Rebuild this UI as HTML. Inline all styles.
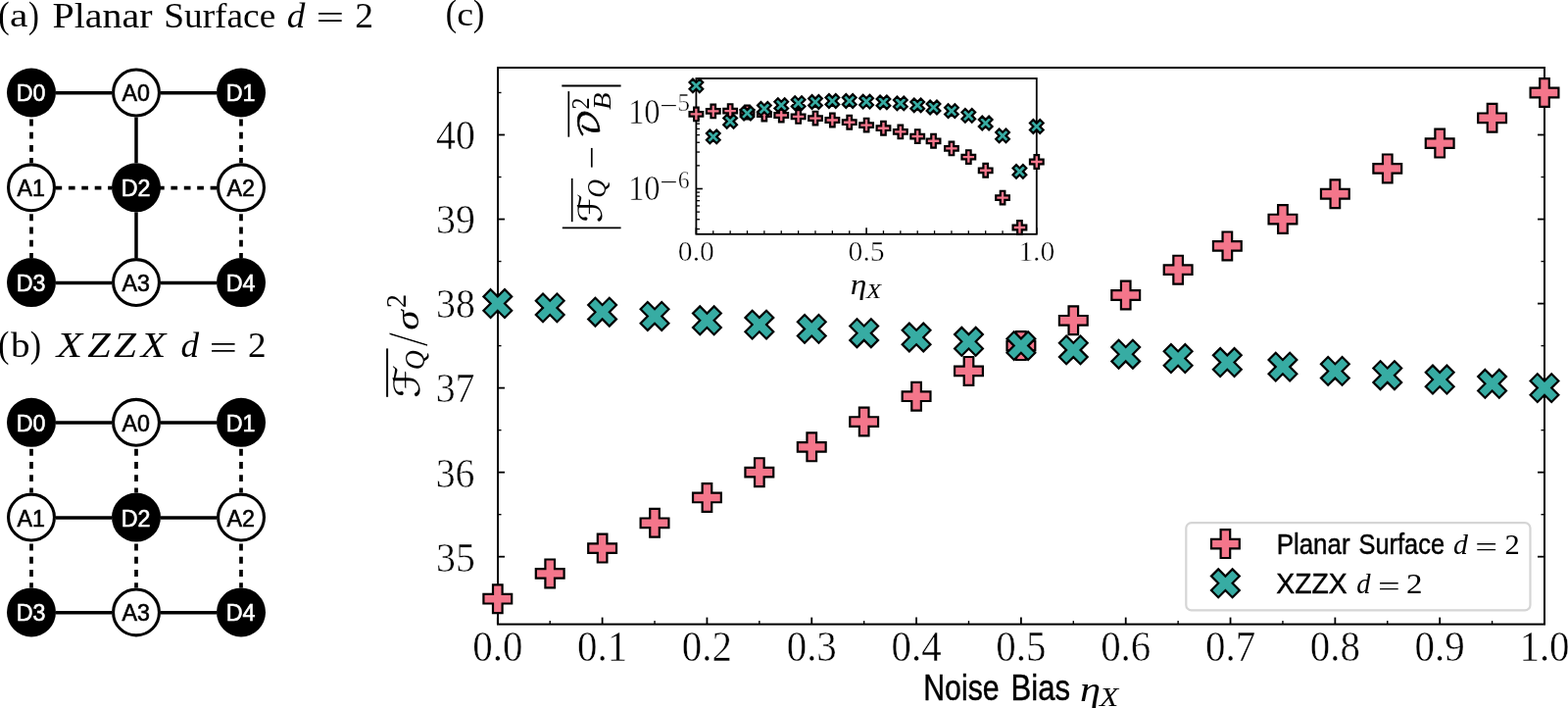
<!DOCTYPE html>
<html><head><meta charset="utf-8"><title>Figure</title>
<style>html,body{margin:0;padding:0;background:#fff;overflow:hidden}svg{display:block}.s{stroke:#fff;stroke-width:0.5px}.b{stroke:#000;stroke-width:0.45px}</style>
</head><body>
<svg width="1600" height="722" viewBox="0 0 1600 722">
<rect width="1600" height="722" fill="#fff"/>
<line x1="57.0" y1="94.8" x2="114.0" y2="94.8" stroke="#000" stroke-width="3.5"/>
<line x1="164.0" y1="94.8" x2="221.0" y2="94.8" stroke="#000" stroke-width="3.5"/>
<line x1="56.5" y1="191.6" x2="114.0" y2="191.6" stroke="#000" stroke-width="3.7" stroke-dasharray="6.7 6.7"/>
<line x1="161.0" y1="191.6" x2="221.0" y2="191.6" stroke="#000" stroke-width="3.7" stroke-dasharray="6.7 6.7"/>
<line x1="57.0" y1="288.4" x2="114.0" y2="288.4" stroke="#000" stroke-width="3.5"/>
<line x1="164.0" y1="288.4" x2="221.0" y2="288.4" stroke="#000" stroke-width="3.5"/>
<line x1="32.0" y1="121.5" x2="32.0" y2="166.3" stroke="#000" stroke-width="3.7" stroke-dasharray="6.9 6.3"/>
<line x1="32.0" y1="218.3" x2="32.0" y2="263.1" stroke="#000" stroke-width="3.7" stroke-dasharray="6.9 6.3"/>
<line x1="139.0" y1="119.5" x2="139.0" y2="166.3" stroke="#000" stroke-width="3.5"/>
<line x1="139.0" y1="216.3" x2="139.0" y2="263.1" stroke="#000" stroke-width="3.5"/>
<line x1="246.0" y1="121.5" x2="246.0" y2="166.3" stroke="#000" stroke-width="3.7" stroke-dasharray="6.9 6.3"/>
<line x1="246.0" y1="218.3" x2="246.0" y2="263.1" stroke="#000" stroke-width="3.7" stroke-dasharray="6.9 6.3"/>
<circle cx="32.0" cy="94.5" r="25" fill="#000"/>
<text transform="translate(31.7 103.4) scale(0.95 1)" font-family="'Liberation Sans', sans-serif" font-size="24.5" fill="#fff" stroke="#fff" stroke-width="0.6" text-anchor="middle">D0</text>
<circle cx="139.0" cy="94.5" r="23.45" fill="#fff" stroke="#000" stroke-width="3.1"/>
<text transform="translate(138.7 103.4) scale(0.95 1)" font-family="'Liberation Sans', sans-serif" font-size="24.5" fill="#000" stroke="#000" stroke-width="0.6" text-anchor="middle">A0</text>
<circle cx="246.0" cy="94.5" r="25" fill="#000"/>
<text transform="translate(245.7 103.4) scale(0.95 1)" font-family="'Liberation Sans', sans-serif" font-size="24.5" fill="#fff" stroke="#fff" stroke-width="0.6" text-anchor="middle">D1</text>
<circle cx="32.0" cy="191.3" r="23.45" fill="#fff" stroke="#000" stroke-width="3.1"/>
<text transform="translate(31.7 200.2) scale(0.95 1)" font-family="'Liberation Sans', sans-serif" font-size="24.5" fill="#000" stroke="#000" stroke-width="0.6" text-anchor="middle">A1</text>
<circle cx="139.0" cy="191.3" r="25" fill="#000"/>
<text transform="translate(138.7 200.2) scale(0.95 1)" font-family="'Liberation Sans', sans-serif" font-size="24.5" fill="#fff" stroke="#fff" stroke-width="0.6" text-anchor="middle">D2</text>
<circle cx="246.0" cy="191.3" r="23.45" fill="#fff" stroke="#000" stroke-width="3.1"/>
<text transform="translate(245.7 200.2) scale(0.95 1)" font-family="'Liberation Sans', sans-serif" font-size="24.5" fill="#000" stroke="#000" stroke-width="0.6" text-anchor="middle">A2</text>
<circle cx="32.0" cy="288.1" r="25" fill="#000"/>
<text transform="translate(31.7 297.0) scale(0.95 1)" font-family="'Liberation Sans', sans-serif" font-size="24.5" fill="#fff" stroke="#fff" stroke-width="0.6" text-anchor="middle">D3</text>
<circle cx="139.0" cy="288.1" r="23.45" fill="#fff" stroke="#000" stroke-width="3.1"/>
<text transform="translate(138.7 297.0) scale(0.95 1)" font-family="'Liberation Sans', sans-serif" font-size="24.5" fill="#000" stroke="#000" stroke-width="0.6" text-anchor="middle">A3</text>
<circle cx="246.0" cy="288.1" r="25" fill="#000"/>
<text transform="translate(245.7 297.0) scale(0.95 1)" font-family="'Liberation Sans', sans-serif" font-size="24.5" fill="#fff" stroke="#fff" stroke-width="0.6" text-anchor="middle">D4</text>
<line x1="57.0" y1="431.1" x2="114.0" y2="431.1" stroke="#000" stroke-width="3.5"/>
<line x1="164.0" y1="431.1" x2="221.0" y2="431.1" stroke="#000" stroke-width="3.5"/>
<line x1="57.0" y1="527.9" x2="114.0" y2="527.9" stroke="#000" stroke-width="3.5"/>
<line x1="164.0" y1="527.9" x2="221.0" y2="527.9" stroke="#000" stroke-width="3.5"/>
<line x1="57.0" y1="624.7" x2="114.0" y2="624.7" stroke="#000" stroke-width="3.5"/>
<line x1="164.0" y1="624.7" x2="221.0" y2="624.7" stroke="#000" stroke-width="3.5"/>
<line x1="32.0" y1="457.8" x2="32.0" y2="502.6" stroke="#000" stroke-width="3.7" stroke-dasharray="6.9 6.3"/>
<line x1="32.0" y1="554.6" x2="32.0" y2="599.4" stroke="#000" stroke-width="3.7" stroke-dasharray="6.9 6.3"/>
<line x1="139.0" y1="457.8" x2="139.0" y2="502.6" stroke="#000" stroke-width="3.7" stroke-dasharray="6.9 6.3"/>
<line x1="139.0" y1="554.6" x2="139.0" y2="599.4" stroke="#000" stroke-width="3.7" stroke-dasharray="6.9 6.3"/>
<line x1="246.0" y1="457.8" x2="246.0" y2="502.6" stroke="#000" stroke-width="3.7" stroke-dasharray="6.9 6.3"/>
<line x1="246.0" y1="554.6" x2="246.0" y2="599.4" stroke="#000" stroke-width="3.7" stroke-dasharray="6.9 6.3"/>
<circle cx="32.0" cy="430.8" r="25" fill="#000"/>
<text transform="translate(31.7 439.7) scale(0.95 1)" font-family="'Liberation Sans', sans-serif" font-size="24.5" fill="#fff" stroke="#fff" stroke-width="0.6" text-anchor="middle">D0</text>
<circle cx="139.0" cy="430.8" r="23.45" fill="#fff" stroke="#000" stroke-width="3.1"/>
<text transform="translate(138.7 439.7) scale(0.95 1)" font-family="'Liberation Sans', sans-serif" font-size="24.5" fill="#000" stroke="#000" stroke-width="0.6" text-anchor="middle">A0</text>
<circle cx="246.0" cy="430.8" r="25" fill="#000"/>
<text transform="translate(245.7 439.7) scale(0.95 1)" font-family="'Liberation Sans', sans-serif" font-size="24.5" fill="#fff" stroke="#fff" stroke-width="0.6" text-anchor="middle">D1</text>
<circle cx="32.0" cy="527.6" r="23.45" fill="#fff" stroke="#000" stroke-width="3.1"/>
<text transform="translate(31.7 536.5) scale(0.95 1)" font-family="'Liberation Sans', sans-serif" font-size="24.5" fill="#000" stroke="#000" stroke-width="0.6" text-anchor="middle">A1</text>
<circle cx="139.0" cy="527.6" r="25" fill="#000"/>
<text transform="translate(138.7 536.5) scale(0.95 1)" font-family="'Liberation Sans', sans-serif" font-size="24.5" fill="#fff" stroke="#fff" stroke-width="0.6" text-anchor="middle">D2</text>
<circle cx="246.0" cy="527.6" r="23.45" fill="#fff" stroke="#000" stroke-width="3.1"/>
<text transform="translate(245.7 536.5) scale(0.95 1)" font-family="'Liberation Sans', sans-serif" font-size="24.5" fill="#000" stroke="#000" stroke-width="0.6" text-anchor="middle">A2</text>
<circle cx="32.0" cy="624.4" r="25" fill="#000"/>
<text transform="translate(31.7 633.3) scale(0.95 1)" font-family="'Liberation Sans', sans-serif" font-size="24.5" fill="#fff" stroke="#fff" stroke-width="0.6" text-anchor="middle">D3</text>
<circle cx="139.0" cy="624.4" r="23.45" fill="#fff" stroke="#000" stroke-width="3.1"/>
<text transform="translate(138.7 633.3) scale(0.95 1)" font-family="'Liberation Sans', sans-serif" font-size="24.5" fill="#000" stroke="#000" stroke-width="0.6" text-anchor="middle">A3</text>
<circle cx="246.0" cy="624.4" r="25" fill="#000"/>
<text transform="translate(245.7 633.3) scale(0.95 1)" font-family="'Liberation Sans', sans-serif" font-size="24.5" fill="#fff" stroke="#fff" stroke-width="0.6" text-anchor="middle">D4</text>
<line x1="507.80" y1="636.6" x2="507.80" y2="629.6" stroke="#000" stroke-width="1.8"/>
<line x1="614.62" y1="636.6" x2="614.62" y2="629.6" stroke="#000" stroke-width="1.8"/>
<line x1="721.44" y1="636.6" x2="721.44" y2="629.6" stroke="#000" stroke-width="1.8"/>
<line x1="828.26" y1="636.6" x2="828.26" y2="629.6" stroke="#000" stroke-width="1.8"/>
<line x1="935.08" y1="636.6" x2="935.08" y2="629.6" stroke="#000" stroke-width="1.8"/>
<line x1="1041.90" y1="636.6" x2="1041.90" y2="629.6" stroke="#000" stroke-width="1.8"/>
<line x1="1148.72" y1="636.6" x2="1148.72" y2="629.6" stroke="#000" stroke-width="1.8"/>
<line x1="1255.54" y1="636.6" x2="1255.54" y2="629.6" stroke="#000" stroke-width="1.8"/>
<line x1="1362.36" y1="636.6" x2="1362.36" y2="629.6" stroke="#000" stroke-width="1.8"/>
<line x1="1469.18" y1="636.6" x2="1469.18" y2="629.6" stroke="#000" stroke-width="1.8"/>
<line x1="1576.00" y1="636.6" x2="1576.00" y2="629.6" stroke="#000" stroke-width="1.8"/>
<line x1="561.21" y1="636.6" x2="561.21" y2="633.1" stroke="#000" stroke-width="1.4"/>
<line x1="668.03" y1="636.6" x2="668.03" y2="633.1" stroke="#000" stroke-width="1.4"/>
<line x1="774.85" y1="636.6" x2="774.85" y2="633.1" stroke="#000" stroke-width="1.4"/>
<line x1="881.67" y1="636.6" x2="881.67" y2="633.1" stroke="#000" stroke-width="1.4"/>
<line x1="988.49" y1="636.6" x2="988.49" y2="633.1" stroke="#000" stroke-width="1.4"/>
<line x1="1095.31" y1="636.6" x2="1095.31" y2="633.1" stroke="#000" stroke-width="1.4"/>
<line x1="1202.13" y1="636.6" x2="1202.13" y2="633.1" stroke="#000" stroke-width="1.4"/>
<line x1="1308.95" y1="636.6" x2="1308.95" y2="633.1" stroke="#000" stroke-width="1.4"/>
<line x1="1415.77" y1="636.6" x2="1415.77" y2="633.1" stroke="#000" stroke-width="1.4"/>
<line x1="1522.59" y1="636.6" x2="1522.59" y2="633.1" stroke="#000" stroke-width="1.4"/>
<line x1="508.0" y1="567.70" x2="515.0" y2="567.70" stroke="#000" stroke-width="1.8"/>
<line x1="1576.0" y1="567.70" x2="1569.0" y2="567.70" stroke="#000" stroke-width="1.8"/>
<line x1="508.0" y1="481.66" x2="515.0" y2="481.66" stroke="#000" stroke-width="1.8"/>
<line x1="1576.0" y1="481.66" x2="1569.0" y2="481.66" stroke="#000" stroke-width="1.8"/>
<line x1="508.0" y1="395.62" x2="515.0" y2="395.62" stroke="#000" stroke-width="1.8"/>
<line x1="1576.0" y1="395.62" x2="1569.0" y2="395.62" stroke="#000" stroke-width="1.8"/>
<line x1="508.0" y1="309.58" x2="515.0" y2="309.58" stroke="#000" stroke-width="1.8"/>
<line x1="1576.0" y1="309.58" x2="1569.0" y2="309.58" stroke="#000" stroke-width="1.8"/>
<line x1="508.0" y1="223.54" x2="515.0" y2="223.54" stroke="#000" stroke-width="1.8"/>
<line x1="1576.0" y1="223.54" x2="1569.0" y2="223.54" stroke="#000" stroke-width="1.8"/>
<line x1="508.0" y1="137.50" x2="515.0" y2="137.50" stroke="#000" stroke-width="1.8"/>
<line x1="1576.0" y1="137.50" x2="1569.0" y2="137.50" stroke="#000" stroke-width="1.8"/>
<line x1="508.0" y1="524.68" x2="511.5" y2="524.68" stroke="#000" stroke-width="1.4"/>
<line x1="1576.0" y1="524.68" x2="1572.5" y2="524.68" stroke="#000" stroke-width="1.4"/>
<line x1="508.0" y1="438.64" x2="511.5" y2="438.64" stroke="#000" stroke-width="1.4"/>
<line x1="1576.0" y1="438.64" x2="1572.5" y2="438.64" stroke="#000" stroke-width="1.4"/>
<line x1="508.0" y1="352.60" x2="511.5" y2="352.60" stroke="#000" stroke-width="1.4"/>
<line x1="1576.0" y1="352.60" x2="1572.5" y2="352.60" stroke="#000" stroke-width="1.4"/>
<line x1="508.0" y1="266.56" x2="511.5" y2="266.56" stroke="#000" stroke-width="1.4"/>
<line x1="1576.0" y1="266.56" x2="1572.5" y2="266.56" stroke="#000" stroke-width="1.4"/>
<line x1="508.0" y1="180.52" x2="511.5" y2="180.52" stroke="#000" stroke-width="1.4"/>
<line x1="1576.0" y1="180.52" x2="1572.5" y2="180.52" stroke="#000" stroke-width="1.4"/>
<line x1="508.0" y1="94.48" x2="511.5" y2="94.48" stroke="#000" stroke-width="1.4"/>
<line x1="1576.0" y1="94.48" x2="1572.5" y2="94.48" stroke="#000" stroke-width="1.4"/>
<rect x="508.0" y="69.0" width="1068.0" height="567.6" fill="none" stroke="#000" stroke-width="2"/>
<text transform="translate(507.80 673.73) scale(0.9394 1)" font-family="'Liberation Serif', serif" font-size="43.58" text-anchor="middle" class="s">0.0</text>
<text transform="translate(614.62 673.73) scale(0.9394 1)" font-family="'Liberation Serif', serif" font-size="43.58" text-anchor="middle" class="s">0.1</text>
<text transform="translate(721.44 673.73) scale(0.9394 1)" font-family="'Liberation Serif', serif" font-size="43.58" text-anchor="middle" class="s">0.2</text>
<text transform="translate(828.26 673.73) scale(0.9394 1)" font-family="'Liberation Serif', serif" font-size="43.58" text-anchor="middle" class="s">0.3</text>
<text transform="translate(935.08 673.73) scale(0.9394 1)" font-family="'Liberation Serif', serif" font-size="43.58" text-anchor="middle" class="s">0.4</text>
<text transform="translate(1041.90 673.73) scale(0.9394 1)" font-family="'Liberation Serif', serif" font-size="43.58" text-anchor="middle" class="s">0.5</text>
<text transform="translate(1148.72 673.73) scale(0.9394 1)" font-family="'Liberation Serif', serif" font-size="43.58" text-anchor="middle" class="s">0.6</text>
<text transform="translate(1255.54 673.73) scale(0.9394 1)" font-family="'Liberation Serif', serif" font-size="43.58" text-anchor="middle" class="s">0.7</text>
<text transform="translate(1362.36 673.73) scale(0.9394 1)" font-family="'Liberation Serif', serif" font-size="43.58" text-anchor="middle" class="s">0.8</text>
<text transform="translate(1469.18 673.73) scale(0.9394 1)" font-family="'Liberation Serif', serif" font-size="43.58" text-anchor="middle" class="s">0.9</text>
<text transform="translate(1576.00 673.73) scale(0.9394 1)" font-family="'Liberation Serif', serif" font-size="43.58" text-anchor="middle" class="s">1.0</text>
<text transform="translate(445.10 582.55) scale(0.9353 1)" font-family="'Liberation Serif', serif" font-size="42.54" class="s">35</text>
<text transform="translate(444.71 496.51) scale(0.9353 1)" font-family="'Liberation Serif', serif" font-size="42.54" class="s">36</text>
<text transform="translate(444.71 410.47) scale(0.9353 1)" font-family="'Liberation Serif', serif" font-size="42.54" class="s">37</text>
<text transform="translate(445.10 324.43) scale(0.9353 1)" font-family="'Liberation Serif', serif" font-size="42.54" class="s">38</text>
<text transform="translate(445.10 238.39) scale(0.9353 1)" font-family="'Liberation Serif', serif" font-size="42.54" class="s">39</text>
<text transform="translate(445.10 152.35) scale(0.9353 1)" font-family="'Liberation Serif', serif" font-size="42.54" class="s">40</text>
<path d="M503.00,596.32 L503.00,605.92 L493.40,605.92 L493.40,615.52 L503.00,615.52 L503.00,625.12 L512.60,625.12 L512.60,615.52 L522.20,615.52 L522.20,605.92 L512.60,605.92 L512.60,596.32 Z" fill="#f4768b" stroke="#000" stroke-width="2.2"/>
<path d="M556.41,570.51 L556.41,580.11 L546.81,580.11 L546.81,589.71 L556.41,589.71 L556.41,599.31 L566.01,599.31 L566.01,589.71 L575.61,589.71 L575.61,580.11 L566.01,580.11 L566.01,570.51 Z" fill="#f4768b" stroke="#000" stroke-width="2.2"/>
<path d="M609.82,544.70 L609.82,554.30 L600.22,554.30 L600.22,563.90 L609.82,563.90 L609.82,573.50 L619.42,573.50 L619.42,563.90 L629.02,563.90 L629.02,554.30 L619.42,554.30 L619.42,544.70 Z" fill="#f4768b" stroke="#000" stroke-width="2.2"/>
<path d="M663.23,518.88 L663.23,528.48 L653.63,528.48 L653.63,538.08 L663.23,538.08 L663.23,547.68 L672.83,547.68 L672.83,538.08 L682.43,538.08 L682.43,528.48 L672.83,528.48 L672.83,518.88 Z" fill="#f4768b" stroke="#000" stroke-width="2.2"/>
<path d="M716.64,493.07 L716.64,502.67 L707.04,502.67 L707.04,512.27 L716.64,512.27 L716.64,521.87 L726.24,521.87 L726.24,512.27 L735.84,512.27 L735.84,502.67 L726.24,502.67 L726.24,493.07 Z" fill="#f4768b" stroke="#000" stroke-width="2.2"/>
<path d="M770.05,467.26 L770.05,476.86 L760.45,476.86 L760.45,486.46 L770.05,486.46 L770.05,496.06 L779.65,496.06 L779.65,486.46 L789.25,486.46 L789.25,476.86 L779.65,476.86 L779.65,467.26 Z" fill="#f4768b" stroke="#000" stroke-width="2.2"/>
<path d="M823.46,441.45 L823.46,451.05 L813.86,451.05 L813.86,460.65 L823.46,460.65 L823.46,470.25 L833.06,470.25 L833.06,460.65 L842.66,460.65 L842.66,451.05 L833.06,451.05 L833.06,441.45 Z" fill="#f4768b" stroke="#000" stroke-width="2.2"/>
<path d="M876.87,415.64 L876.87,425.24 L867.27,425.24 L867.27,434.84 L876.87,434.84 L876.87,444.44 L886.47,444.44 L886.47,434.84 L896.07,434.84 L896.07,425.24 L886.47,425.24 L886.47,415.64 Z" fill="#f4768b" stroke="#000" stroke-width="2.2"/>
<path d="M930.28,389.82 L930.28,399.42 L920.68,399.42 L920.68,409.02 L930.28,409.02 L930.28,418.62 L939.88,418.62 L939.88,409.02 L949.48,409.02 L949.48,399.42 L939.88,399.42 L939.88,389.82 Z" fill="#f4768b" stroke="#000" stroke-width="2.2"/>
<path d="M983.69,364.01 L983.69,373.61 L974.09,373.61 L974.09,383.21 L983.69,383.21 L983.69,392.81 L993.29,392.81 L993.29,383.21 L1002.89,383.21 L1002.89,373.61 L993.29,373.61 L993.29,364.01 Z" fill="#f4768b" stroke="#000" stroke-width="2.2"/>
<path d="M1037.10,338.20 L1037.10,347.80 L1027.50,347.80 L1027.50,357.40 L1037.10,357.40 L1037.10,367.00 L1046.70,367.00 L1046.70,357.40 L1056.30,357.40 L1056.30,347.80 L1046.70,347.80 L1046.70,338.20 Z" fill="#f4768b" stroke="#000" stroke-width="2.2"/>
<path d="M1090.51,312.39 L1090.51,321.99 L1080.91,321.99 L1080.91,331.59 L1090.51,331.59 L1090.51,341.19 L1100.11,341.19 L1100.11,331.59 L1109.71,331.59 L1109.71,321.99 L1100.11,321.99 L1100.11,312.39 Z" fill="#f4768b" stroke="#000" stroke-width="2.2"/>
<path d="M1143.92,286.58 L1143.92,296.18 L1134.32,296.18 L1134.32,305.78 L1143.92,305.78 L1143.92,315.38 L1153.52,315.38 L1153.52,305.78 L1163.12,305.78 L1163.12,296.18 L1153.52,296.18 L1153.52,286.58 Z" fill="#f4768b" stroke="#000" stroke-width="2.2"/>
<path d="M1197.33,260.76 L1197.33,270.36 L1187.73,270.36 L1187.73,279.96 L1197.33,279.96 L1197.33,289.56 L1206.93,289.56 L1206.93,279.96 L1216.53,279.96 L1216.53,270.36 L1206.93,270.36 L1206.93,260.76 Z" fill="#f4768b" stroke="#000" stroke-width="2.2"/>
<path d="M1247.54,236.50 L1247.54,246.10 L1237.94,246.10 L1237.94,255.70 L1247.54,255.70 L1247.54,265.30 L1257.14,265.30 L1257.14,255.70 L1266.74,255.70 L1266.74,246.10 L1257.14,246.10 L1257.14,236.50 Z" fill="#f4768b" stroke="#000" stroke-width="2.2"/>
<path d="M1304.15,209.14 L1304.15,218.74 L1294.55,218.74 L1294.55,228.34 L1304.15,228.34 L1304.15,237.94 L1313.75,237.94 L1313.75,228.34 L1323.35,228.34 L1323.35,218.74 L1313.75,218.74 L1313.75,209.14 Z" fill="#f4768b" stroke="#000" stroke-width="2.2"/>
<path d="M1357.56,183.33 L1357.56,192.93 L1347.96,192.93 L1347.96,202.53 L1357.56,202.53 L1357.56,212.13 L1367.16,212.13 L1367.16,202.53 L1376.76,202.53 L1376.76,192.93 L1367.16,192.93 L1367.16,183.33 Z" fill="#f4768b" stroke="#000" stroke-width="2.2"/>
<path d="M1410.97,157.52 L1410.97,167.12 L1401.37,167.12 L1401.37,176.72 L1410.97,176.72 L1410.97,186.32 L1420.57,186.32 L1420.57,176.72 L1430.17,176.72 L1430.17,167.12 L1420.57,167.12 L1420.57,157.52 Z" fill="#f4768b" stroke="#000" stroke-width="2.2"/>
<path d="M1464.38,131.70 L1464.38,141.30 L1454.78,141.30 L1454.78,150.90 L1464.38,150.90 L1464.38,160.50 L1473.98,160.50 L1473.98,150.90 L1483.58,150.90 L1483.58,141.30 L1473.98,141.30 L1473.98,131.70 Z" fill="#f4768b" stroke="#000" stroke-width="2.2"/>
<path d="M1517.79,105.89 L1517.79,115.49 L1508.19,115.49 L1508.19,125.09 L1517.79,125.09 L1517.79,134.69 L1527.39,134.69 L1527.39,125.09 L1536.99,125.09 L1536.99,115.49 L1527.39,115.49 L1527.39,105.89 Z" fill="#f4768b" stroke="#000" stroke-width="2.2"/>
<path d="M1571.20,80.08 L1571.20,89.68 L1561.60,89.68 L1561.60,99.28 L1571.20,99.28 L1571.20,108.88 L1580.80,108.88 L1580.80,99.28 L1590.40,99.28 L1590.40,89.68 L1580.80,89.68 L1580.80,80.08 Z" fill="#f4768b" stroke="#000" stroke-width="2.2"/>
<path d="M500.60,295.18 L507.80,302.38 L515.00,295.18 L522.20,302.38 L515.00,309.58 L522.20,316.78 L515.00,323.98 L507.80,316.78 L500.60,323.98 L493.40,316.78 L500.60,309.58 L493.40,302.38 Z" fill="#37aca3" stroke="#000" stroke-width="2.2"/>
<path d="M554.01,299.48 L561.21,306.68 L568.41,299.48 L575.61,306.68 L568.41,313.88 L575.61,321.08 L568.41,328.28 L561.21,321.08 L554.01,328.28 L546.81,321.08 L554.01,313.88 L546.81,306.68 Z" fill="#37aca3" stroke="#000" stroke-width="2.2"/>
<path d="M607.42,303.78 L614.62,310.98 L621.82,303.78 L629.02,310.98 L621.82,318.18 L629.02,325.38 L621.82,332.58 L614.62,325.38 L607.42,332.58 L600.22,325.38 L607.42,318.18 L600.22,310.98 Z" fill="#37aca3" stroke="#000" stroke-width="2.2"/>
<path d="M660.83,308.09 L668.03,315.29 L675.23,308.09 L682.43,315.29 L675.23,322.49 L682.43,329.69 L675.23,336.89 L668.03,329.69 L660.83,336.89 L653.63,329.69 L660.83,322.49 L653.63,315.29 Z" fill="#37aca3" stroke="#000" stroke-width="2.2"/>
<path d="M714.24,312.39 L721.44,319.59 L728.64,312.39 L735.84,319.59 L728.64,326.79 L735.84,333.99 L728.64,341.19 L721.44,333.99 L714.24,341.19 L707.04,333.99 L714.24,326.79 L707.04,319.59 Z" fill="#37aca3" stroke="#000" stroke-width="2.2"/>
<path d="M767.65,316.69 L774.85,323.89 L782.05,316.69 L789.25,323.89 L782.05,331.09 L789.25,338.29 L782.05,345.49 L774.85,338.29 L767.65,345.49 L760.45,338.29 L767.65,331.09 L760.45,323.89 Z" fill="#37aca3" stroke="#000" stroke-width="2.2"/>
<path d="M821.06,320.99 L828.26,328.19 L835.46,320.99 L842.66,328.19 L835.46,335.39 L842.66,342.59 L835.46,349.79 L828.26,342.59 L821.06,349.79 L813.86,342.59 L821.06,335.39 L813.86,328.19 Z" fill="#37aca3" stroke="#000" stroke-width="2.2"/>
<path d="M874.47,325.29 L881.67,332.49 L888.87,325.29 L896.07,332.49 L888.87,339.69 L896.07,346.89 L888.87,354.09 L881.67,346.89 L874.47,354.09 L867.27,346.89 L874.47,339.69 L867.27,332.49 Z" fill="#37aca3" stroke="#000" stroke-width="2.2"/>
<path d="M927.88,329.60 L935.08,336.80 L942.28,329.60 L949.48,336.80 L942.28,344.00 L949.48,351.20 L942.28,358.40 L935.08,351.20 L927.88,358.40 L920.68,351.20 L927.88,344.00 L920.68,336.80 Z" fill="#37aca3" stroke="#000" stroke-width="2.2"/>
<path d="M981.29,333.90 L988.49,341.10 L995.69,333.90 L1002.89,341.10 L995.69,348.30 L1002.89,355.50 L995.69,362.70 L988.49,355.50 L981.29,362.70 L974.09,355.50 L981.29,348.30 L974.09,341.10 Z" fill="#37aca3" stroke="#000" stroke-width="2.2"/>
<path d="M1034.70,338.20 L1041.90,345.40 L1049.10,338.20 L1056.30,345.40 L1049.10,352.60 L1056.30,359.80 L1049.10,367.00 L1041.90,359.80 L1034.70,367.00 L1027.50,359.80 L1034.70,352.60 L1027.50,345.40 Z" fill="#37aca3" stroke="#000" stroke-width="2.2"/>
<path d="M1088.11,342.50 L1095.31,349.70 L1102.51,342.50 L1109.71,349.70 L1102.51,356.90 L1109.71,364.10 L1102.51,371.30 L1095.31,364.10 L1088.11,371.30 L1080.91,364.10 L1088.11,356.90 L1080.91,349.70 Z" fill="#37aca3" stroke="#000" stroke-width="2.2"/>
<path d="M1141.52,346.80 L1148.72,354.00 L1155.92,346.80 L1163.12,354.00 L1155.92,361.20 L1163.12,368.40 L1155.92,375.60 L1148.72,368.40 L1141.52,375.60 L1134.32,368.40 L1141.52,361.20 L1134.32,354.00 Z" fill="#37aca3" stroke="#000" stroke-width="2.2"/>
<path d="M1194.93,351.11 L1202.13,358.31 L1209.33,351.11 L1216.53,358.31 L1209.33,365.51 L1216.53,372.71 L1209.33,379.91 L1202.13,372.71 L1194.93,379.91 L1187.73,372.71 L1194.93,365.51 L1187.73,358.31 Z" fill="#37aca3" stroke="#000" stroke-width="2.2"/>
<path d="M1245.14,355.15 L1252.34,362.35 L1259.54,355.15 L1266.74,362.35 L1259.54,369.55 L1266.74,376.75 L1259.54,383.95 L1252.34,376.75 L1245.14,383.95 L1237.94,376.75 L1245.14,369.55 L1237.94,362.35 Z" fill="#37aca3" stroke="#000" stroke-width="2.2"/>
<path d="M1301.75,359.71 L1308.95,366.91 L1316.15,359.71 L1323.35,366.91 L1316.15,374.11 L1323.35,381.31 L1316.15,388.51 L1308.95,381.31 L1301.75,388.51 L1294.55,381.31 L1301.75,374.11 L1294.55,366.91 Z" fill="#37aca3" stroke="#000" stroke-width="2.2"/>
<path d="M1355.16,364.01 L1362.36,371.21 L1369.56,364.01 L1376.76,371.21 L1369.56,378.41 L1376.76,385.61 L1369.56,392.81 L1362.36,385.61 L1355.16,392.81 L1347.96,385.61 L1355.16,378.41 L1347.96,371.21 Z" fill="#37aca3" stroke="#000" stroke-width="2.2"/>
<path d="M1408.57,368.31 L1415.77,375.51 L1422.97,368.31 L1430.17,375.51 L1422.97,382.71 L1430.17,389.91 L1422.97,397.11 L1415.77,389.91 L1408.57,397.11 L1401.37,389.91 L1408.57,382.71 L1401.37,375.51 Z" fill="#37aca3" stroke="#000" stroke-width="2.2"/>
<path d="M1461.98,372.62 L1469.18,379.82 L1476.38,372.62 L1483.58,379.82 L1476.38,387.02 L1483.58,394.22 L1476.38,401.42 L1469.18,394.22 L1461.98,401.42 L1454.78,394.22 L1461.98,387.02 L1454.78,379.82 Z" fill="#37aca3" stroke="#000" stroke-width="2.2"/>
<path d="M1515.39,376.92 L1522.59,384.12 L1529.79,376.92 L1536.99,384.12 L1529.79,391.32 L1536.99,398.52 L1529.79,405.72 L1522.59,398.52 L1515.39,405.72 L1508.19,398.52 L1515.39,391.32 L1508.19,384.12 Z" fill="#37aca3" stroke="#000" stroke-width="2.2"/>
<path d="M1568.80,381.22 L1576.00,388.42 L1583.20,381.22 L1590.40,388.42 L1583.20,395.62 L1590.40,402.82 L1583.20,410.02 L1576.00,402.82 L1568.80,410.02 L1561.60,402.82 L1568.80,395.62 L1561.60,388.42 Z" fill="#37aca3" stroke="#000" stroke-width="2.2"/>
<line x1="395.1" y1="355.4" x2="395.1" y2="404.8" stroke="#000" stroke-width="2"/>
<rect x="710.4" y="80.0" width="347.4" height="158.8" fill="#fff" stroke="#000" stroke-width="1.8"/>
<line x1="710.40" y1="238.8" x2="710.40" y2="232.3" stroke="#000" stroke-width="1.6"/>
<line x1="727.77" y1="238.8" x2="727.77" y2="235.20000000000002" stroke="#000" stroke-width="1.3"/>
<line x1="745.14" y1="238.8" x2="745.14" y2="235.20000000000002" stroke="#000" stroke-width="1.3"/>
<line x1="762.51" y1="238.8" x2="762.51" y2="235.20000000000002" stroke="#000" stroke-width="1.3"/>
<line x1="779.88" y1="238.8" x2="779.88" y2="235.20000000000002" stroke="#000" stroke-width="1.3"/>
<line x1="797.25" y1="238.8" x2="797.25" y2="235.20000000000002" stroke="#000" stroke-width="1.3"/>
<line x1="814.62" y1="238.8" x2="814.62" y2="235.20000000000002" stroke="#000" stroke-width="1.3"/>
<line x1="831.99" y1="238.8" x2="831.99" y2="235.20000000000002" stroke="#000" stroke-width="1.3"/>
<line x1="849.36" y1="238.8" x2="849.36" y2="235.20000000000002" stroke="#000" stroke-width="1.3"/>
<line x1="866.73" y1="238.8" x2="866.73" y2="235.20000000000002" stroke="#000" stroke-width="1.3"/>
<line x1="884.10" y1="238.8" x2="884.10" y2="232.3" stroke="#000" stroke-width="1.6"/>
<line x1="901.47" y1="238.8" x2="901.47" y2="235.20000000000002" stroke="#000" stroke-width="1.3"/>
<line x1="918.84" y1="238.8" x2="918.84" y2="235.20000000000002" stroke="#000" stroke-width="1.3"/>
<line x1="936.21" y1="238.8" x2="936.21" y2="235.20000000000002" stroke="#000" stroke-width="1.3"/>
<line x1="953.58" y1="238.8" x2="953.58" y2="235.20000000000002" stroke="#000" stroke-width="1.3"/>
<line x1="970.95" y1="238.8" x2="970.95" y2="235.20000000000002" stroke="#000" stroke-width="1.3"/>
<line x1="988.32" y1="238.8" x2="988.32" y2="235.20000000000002" stroke="#000" stroke-width="1.3"/>
<line x1="1005.69" y1="238.8" x2="1005.69" y2="235.20000000000002" stroke="#000" stroke-width="1.3"/>
<line x1="1023.06" y1="238.8" x2="1023.06" y2="235.20000000000002" stroke="#000" stroke-width="1.3"/>
<line x1="1040.43" y1="238.8" x2="1040.43" y2="235.20000000000002" stroke="#000" stroke-width="1.3"/>
<line x1="1057.80" y1="238.8" x2="1057.80" y2="232.3" stroke="#000" stroke-width="1.6"/>
<text transform="translate(710.40 266.19) scale(0.9817 1)" font-family="'Liberation Serif', serif" font-size="30.30" text-anchor="middle" class="s">0.0</text>
<text transform="translate(884.10 266.19) scale(0.9817 1)" font-family="'Liberation Serif', serif" font-size="30.30" text-anchor="middle" class="s">0.5</text>
<text transform="translate(1057.80 266.19) scale(0.9817 1)" font-family="'Liberation Serif', serif" font-size="30.30" text-anchor="middle" class="s">1.0</text>
<line x1="710.4" y1="192.50" x2="716.9" y2="192.50" stroke="#000" stroke-width="1.6"/>
<line x1="710.4" y1="114.00" x2="716.9" y2="114.00" stroke="#000" stroke-width="1.6"/>
<line x1="710.4" y1="233.55" x2="714.0" y2="233.55" stroke="#000" stroke-width="1.3"/>
<line x1="710.4" y1="223.74" x2="714.0" y2="223.74" stroke="#000" stroke-width="1.3"/>
<line x1="710.4" y1="216.13" x2="714.0" y2="216.13" stroke="#000" stroke-width="1.3"/>
<line x1="710.4" y1="209.92" x2="714.0" y2="209.92" stroke="#000" stroke-width="1.3"/>
<line x1="710.4" y1="204.66" x2="714.0" y2="204.66" stroke="#000" stroke-width="1.3"/>
<line x1="710.4" y1="200.11" x2="714.0" y2="200.11" stroke="#000" stroke-width="1.3"/>
<line x1="710.4" y1="196.09" x2="714.0" y2="196.09" stroke="#000" stroke-width="1.3"/>
<line x1="710.4" y1="168.87" x2="714.0" y2="168.87" stroke="#000" stroke-width="1.3"/>
<line x1="710.4" y1="155.05" x2="714.0" y2="155.05" stroke="#000" stroke-width="1.3"/>
<line x1="710.4" y1="145.24" x2="714.0" y2="145.24" stroke="#000" stroke-width="1.3"/>
<line x1="710.4" y1="137.63" x2="714.0" y2="137.63" stroke="#000" stroke-width="1.3"/>
<line x1="710.4" y1="131.42" x2="714.0" y2="131.42" stroke="#000" stroke-width="1.3"/>
<line x1="710.4" y1="126.16" x2="714.0" y2="126.16" stroke="#000" stroke-width="1.3"/>
<line x1="710.4" y1="121.61" x2="714.0" y2="121.61" stroke="#000" stroke-width="1.3"/>
<line x1="710.4" y1="117.59" x2="714.0" y2="117.59" stroke="#000" stroke-width="1.3"/>
<line x1="710.4" y1="90.37" x2="714.0" y2="90.37" stroke="#000" stroke-width="1.3"/>
<path d="M708.12,109.55 L708.12,114.12 L703.55,114.12 L703.55,118.68 L708.12,118.68 L708.12,123.25 L712.68,123.25 L712.68,118.68 L717.25,118.68 L717.25,114.12 L712.68,114.12 L712.68,109.55 Z" fill="#f4768b" stroke="#000" stroke-width="2.2"/>
<path d="M725.49,106.55 L725.49,111.12 L720.92,111.12 L720.92,115.68 L725.49,115.68 L725.49,120.25 L730.05,120.25 L730.05,115.68 L734.62,115.68 L734.62,111.12 L730.05,111.12 L730.05,106.55 Z" fill="#f4768b" stroke="#000" stroke-width="2.2"/>
<path d="M742.86,106.25 L742.86,110.82 L738.29,110.82 L738.29,115.38 L742.86,115.38 L742.86,119.95 L747.42,119.95 L747.42,115.38 L751.99,115.38 L751.99,110.82 L747.42,110.82 L747.42,106.25 Z" fill="#f4768b" stroke="#000" stroke-width="2.2"/>
<path d="M760.23,107.65 L760.23,112.22 L755.66,112.22 L755.66,116.78 L760.23,116.78 L760.23,121.35 L764.79,121.35 L764.79,116.78 L769.36,116.78 L769.36,112.22 L764.79,112.22 L764.79,107.65 Z" fill="#f4768b" stroke="#000" stroke-width="2.2"/>
<path d="M777.60,109.75 L777.60,114.32 L773.03,114.32 L773.03,118.88 L777.60,118.88 L777.60,123.45 L782.16,123.45 L782.16,118.88 L786.73,118.88 L786.73,114.32 L782.16,114.32 L782.16,109.75 Z" fill="#f4768b" stroke="#000" stroke-width="2.2"/>
<path d="M794.97,110.65 L794.97,115.22 L790.40,115.22 L790.40,119.78 L794.97,119.78 L794.97,124.35 L799.53,124.35 L799.53,119.78 L804.10,119.78 L804.10,115.22 L799.53,115.22 L799.53,110.65 Z" fill="#f4768b" stroke="#000" stroke-width="2.2"/>
<path d="M812.34,112.05 L812.34,116.62 L807.77,116.62 L807.77,121.18 L812.34,121.18 L812.34,125.75 L816.90,125.75 L816.90,121.18 L821.47,121.18 L821.47,116.62 L816.90,116.62 L816.90,112.05 Z" fill="#f4768b" stroke="#000" stroke-width="2.2"/>
<path d="M829.71,113.75 L829.71,118.32 L825.14,118.32 L825.14,122.88 L829.71,122.88 L829.71,127.45 L834.27,127.45 L834.27,122.88 L838.84,122.88 L838.84,118.32 L834.27,118.32 L834.27,113.75 Z" fill="#f4768b" stroke="#000" stroke-width="2.2"/>
<path d="M847.08,115.65 L847.08,120.22 L842.51,120.22 L842.51,124.78 L847.08,124.78 L847.08,129.35 L851.64,129.35 L851.64,124.78 L856.21,124.78 L856.21,120.22 L851.64,120.22 L851.64,115.65 Z" fill="#f4768b" stroke="#000" stroke-width="2.2"/>
<path d="M864.45,117.85 L864.45,122.42 L859.88,122.42 L859.88,126.98 L864.45,126.98 L864.45,131.55 L869.01,131.55 L869.01,126.98 L873.58,126.98 L873.58,122.42 L869.01,122.42 L869.01,117.85 Z" fill="#f4768b" stroke="#000" stroke-width="2.2"/>
<path d="M881.82,120.75 L881.82,125.32 L877.25,125.32 L877.25,129.88 L881.82,129.88 L881.82,134.45 L886.38,134.45 L886.38,129.88 L890.95,129.88 L890.95,125.32 L886.38,125.32 L886.38,120.75 Z" fill="#f4768b" stroke="#000" stroke-width="2.2"/>
<path d="M899.19,123.85 L899.19,128.42 L894.62,128.42 L894.62,132.98 L899.19,132.98 L899.19,137.55 L903.75,137.55 L903.75,132.98 L908.32,132.98 L908.32,128.42 L903.75,128.42 L903.75,123.85 Z" fill="#f4768b" stroke="#000" stroke-width="2.2"/>
<path d="M916.56,127.55 L916.56,132.12 L911.99,132.12 L911.99,136.68 L916.56,136.68 L916.56,141.25 L921.12,141.25 L921.12,136.68 L925.69,136.68 L925.69,132.12 L921.12,132.12 L921.12,127.55 Z" fill="#f4768b" stroke="#000" stroke-width="2.2"/>
<path d="M933.93,132.25 L933.93,136.82 L929.36,136.82 L929.36,141.38 L933.93,141.38 L933.93,145.95 L938.49,145.95 L938.49,141.38 L943.06,141.38 L943.06,136.82 L938.49,136.82 L938.49,132.25 Z" fill="#f4768b" stroke="#000" stroke-width="2.2"/>
<path d="M950.25,136.95 L950.25,141.52 L945.69,141.52 L945.69,146.08 L950.25,146.08 L950.25,150.65 L954.82,150.65 L954.82,146.08 L959.39,146.08 L959.39,141.52 L954.82,141.52 L954.82,136.95 Z" fill="#f4768b" stroke="#000" stroke-width="2.2"/>
<path d="M968.67,144.55 L968.67,149.12 L964.10,149.12 L964.10,153.68 L968.67,153.68 L968.67,158.25 L973.23,158.25 L973.23,153.68 L977.80,153.68 L977.80,149.12 L973.23,149.12 L973.23,144.55 Z" fill="#f4768b" stroke="#000" stroke-width="2.2"/>
<path d="M986.04,153.25 L986.04,157.82 L981.47,157.82 L981.47,162.38 L986.04,162.38 L986.04,166.95 L990.60,166.95 L990.60,162.38 L995.17,162.38 L995.17,157.82 L990.60,157.82 L990.60,153.25 Z" fill="#f4768b" stroke="#000" stroke-width="2.2"/>
<path d="M1003.41,166.95 L1003.41,171.52 L998.84,171.52 L998.84,176.08 L1003.41,176.08 L1003.41,180.65 L1007.97,180.65 L1007.97,176.08 L1012.54,176.08 L1012.54,171.52 L1007.97,171.52 L1007.97,166.95 Z" fill="#f4768b" stroke="#000" stroke-width="2.2"/>
<path d="M1020.78,194.75 L1020.78,199.32 L1016.21,199.32 L1016.21,203.88 L1020.78,203.88 L1020.78,208.45 L1025.34,208.45 L1025.34,203.88 L1029.91,203.88 L1029.91,199.32 L1025.34,199.32 L1025.34,194.75 Z" fill="#f4768b" stroke="#000" stroke-width="2.2"/>
<path d="M1038.15,225.15 L1038.15,229.72 L1033.58,229.72 L1033.58,234.28 L1038.15,234.28 L1038.15,238.85 L1042.71,238.85 L1042.71,234.28 L1047.28,234.28 L1047.28,229.72 L1042.71,229.72 L1042.71,225.15 Z" fill="#f4768b" stroke="#000" stroke-width="2.2"/>
<path d="M1055.52,158.15 L1055.52,162.72 L1050.95,162.72 L1050.95,167.28 L1055.52,167.28 L1055.52,171.85 L1060.08,171.85 L1060.08,167.28 L1064.65,167.28 L1064.65,162.72 L1060.08,162.72 L1060.08,158.15 Z" fill="#f4768b" stroke="#000" stroke-width="2.2"/>
<path d="M706.98,80.55 L710.40,83.98 L713.82,80.55 L717.25,83.98 L713.82,87.40 L717.25,90.83 L713.82,94.25 L710.40,90.83 L706.98,94.25 L703.55,90.83 L706.98,87.40 L703.55,83.98 Z" fill="#37aca3" stroke="#000" stroke-width="2.2"/>
<path d="M724.35,132.55 L727.77,135.97 L731.19,132.55 L734.62,135.97 L731.19,139.40 L734.62,142.83 L731.19,146.25 L727.77,142.83 L724.35,146.25 L720.92,142.83 L724.35,139.40 L720.92,135.97 Z" fill="#37aca3" stroke="#000" stroke-width="2.2"/>
<path d="M741.72,116.95 L745.14,120.38 L748.56,116.95 L751.99,120.38 L748.56,123.80 L751.99,127.22 L748.56,130.65 L745.14,127.22 L741.72,130.65 L738.29,127.22 L741.72,123.80 L738.29,120.38 Z" fill="#37aca3" stroke="#000" stroke-width="2.2"/>
<path d="M759.09,108.65 L762.51,112.08 L765.93,108.65 L769.36,112.08 L765.93,115.50 L769.36,118.92 L765.93,122.35 L762.51,118.92 L759.09,122.35 L755.66,118.92 L759.09,115.50 L755.66,112.08 Z" fill="#37aca3" stroke="#000" stroke-width="2.2"/>
<path d="M776.46,104.05 L779.88,107.48 L783.30,104.05 L786.73,107.48 L783.30,110.90 L786.73,114.33 L783.30,117.75 L779.88,114.33 L776.46,117.75 L773.03,114.33 L776.46,110.90 L773.03,107.48 Z" fill="#37aca3" stroke="#000" stroke-width="2.2"/>
<path d="M793.83,100.35 L797.25,103.78 L800.67,100.35 L804.10,103.78 L800.67,107.20 L804.10,110.62 L800.67,114.05 L797.25,110.62 L793.83,114.05 L790.40,110.62 L793.83,107.20 L790.40,103.78 Z" fill="#37aca3" stroke="#000" stroke-width="2.2"/>
<path d="M811.20,98.25 L814.62,101.67 L818.04,98.25 L821.47,101.67 L818.04,105.10 L821.47,108.52 L818.04,111.95 L814.62,108.52 L811.20,111.95 L807.77,108.52 L811.20,105.10 L807.77,101.67 Z" fill="#37aca3" stroke="#000" stroke-width="2.2"/>
<path d="M828.57,97.15 L831.99,100.58 L835.41,97.15 L838.84,100.58 L835.41,104.00 L838.84,107.42 L835.41,110.85 L831.99,107.42 L828.57,110.85 L825.14,107.42 L828.57,104.00 L825.14,100.58 Z" fill="#37aca3" stroke="#000" stroke-width="2.2"/>
<path d="M845.94,96.15 L849.36,99.58 L852.78,96.15 L856.21,99.58 L852.78,103.00 L856.21,106.42 L852.78,109.85 L849.36,106.42 L845.94,109.85 L842.51,106.42 L845.94,103.00 L842.51,99.58 Z" fill="#37aca3" stroke="#000" stroke-width="2.2"/>
<path d="M863.31,96.15 L866.73,99.58 L870.15,96.15 L873.58,99.58 L870.15,103.00 L873.58,106.42 L870.15,109.85 L866.73,106.42 L863.31,109.85 L859.88,106.42 L863.31,103.00 L859.88,99.58 Z" fill="#37aca3" stroke="#000" stroke-width="2.2"/>
<path d="M880.67,96.75 L884.10,100.17 L887.52,96.75 L890.95,100.17 L887.52,103.60 L890.95,107.02 L887.52,110.45 L884.10,107.02 L880.67,110.45 L877.25,107.02 L880.67,103.60 L877.25,100.17 Z" fill="#37aca3" stroke="#000" stroke-width="2.2"/>
<path d="M898.05,97.45 L901.47,100.88 L904.89,97.45 L908.32,100.88 L904.89,104.30 L908.32,107.72 L904.89,111.15 L901.47,107.72 L898.05,111.15 L894.62,107.72 L898.05,104.30 L894.62,100.88 Z" fill="#37aca3" stroke="#000" stroke-width="2.2"/>
<path d="M915.42,98.55 L918.84,101.98 L922.26,98.55 L925.69,101.98 L922.26,105.40 L925.69,108.83 L922.26,112.25 L918.84,108.83 L915.42,112.25 L911.99,108.83 L915.42,105.40 L911.99,101.98 Z" fill="#37aca3" stroke="#000" stroke-width="2.2"/>
<path d="M932.79,100.45 L936.21,103.88 L939.63,100.45 L943.06,103.88 L939.63,107.30 L943.06,110.72 L939.63,114.15 L936.21,110.72 L932.79,114.15 L929.36,110.72 L932.79,107.30 L929.36,103.88 Z" fill="#37aca3" stroke="#000" stroke-width="2.2"/>
<path d="M949.11,102.65 L952.54,106.08 L955.96,102.65 L959.39,106.08 L955.96,109.50 L959.39,112.92 L955.96,116.35 L952.54,112.92 L949.11,116.35 L945.69,112.92 L949.11,109.50 L945.69,106.08 Z" fill="#37aca3" stroke="#000" stroke-width="2.2"/>
<path d="M967.52,106.35 L970.95,109.78 L974.37,106.35 L977.80,109.78 L974.37,113.20 L977.80,116.62 L974.37,120.05 L970.95,116.62 L967.52,120.05 L964.10,116.62 L967.52,113.20 L964.10,109.78 Z" fill="#37aca3" stroke="#000" stroke-width="2.2"/>
<path d="M984.89,111.05 L988.32,114.48 L991.74,111.05 L995.17,114.48 L991.74,117.90 L995.17,121.33 L991.74,124.75 L988.32,121.33 L984.89,124.75 L981.47,121.33 L984.89,117.90 L981.47,114.48 Z" fill="#37aca3" stroke="#000" stroke-width="2.2"/>
<path d="M1002.27,118.65 L1005.69,122.08 L1009.12,118.65 L1012.54,122.08 L1009.12,125.50 L1012.54,128.93 L1009.12,132.35 L1005.69,128.93 L1002.27,132.35 L998.84,128.93 L1002.27,125.50 L998.84,122.08 Z" fill="#37aca3" stroke="#000" stroke-width="2.2"/>
<path d="M1019.63,131.55 L1023.06,134.97 L1026.48,131.55 L1029.91,134.97 L1026.48,138.40 L1029.91,141.83 L1026.48,145.25 L1023.06,141.83 L1019.63,145.25 L1016.21,141.83 L1019.63,138.40 L1016.21,134.97 Z" fill="#37aca3" stroke="#000" stroke-width="2.2"/>
<path d="M1037.01,168.05 L1040.43,171.47 L1043.86,168.05 L1047.28,171.47 L1043.86,174.90 L1047.28,178.33 L1043.86,181.75 L1040.43,178.33 L1037.01,181.75 L1033.58,178.33 L1037.01,174.90 L1033.58,171.47 Z" fill="#37aca3" stroke="#000" stroke-width="2.2"/>
<path d="M1054.38,122.15 L1057.80,125.58 L1061.22,122.15 L1064.65,125.58 L1061.22,129.00 L1064.65,132.43 L1061.22,135.85 L1057.80,132.43 L1054.38,135.85 L1050.95,132.43 L1054.38,129.00 L1050.95,125.58 Z" fill="#37aca3" stroke="#000" stroke-width="2.2"/>
<line x1="573.3" y1="87.5" x2="633.6" y2="87.5" stroke="#000" stroke-width="1.8"/>
<line x1="573.8" y1="232.4" x2="633.6" y2="232.4" stroke="#000" stroke-width="1.8"/>
<line x1="580.3" y1="93.1" x2="580.3" y2="139.7" stroke="#000" stroke-width="1.7"/>
<line x1="583.7" y1="181.9" x2="583.7" y2="226.2" stroke="#000" stroke-width="1.7"/>
<rect x="1210.3" y="533.1" width="351.2" height="89.3" rx="5.5" fill="#fff" fill-opacity="0.8" stroke="#d5d5d5" stroke-width="2.2"/>
<path d="M1245.60,540.20 L1245.60,549.80 L1236.00,549.80 L1236.00,559.40 L1245.60,559.40 L1245.60,569.00 L1255.20,569.00 L1255.20,559.40 L1264.80,559.40 L1264.80,549.80 L1255.20,549.80 L1255.20,540.20 Z" fill="#f4768b" stroke="#000" stroke-width="2.2"/>
<path d="M1243.20,580.40 L1250.40,587.60 L1257.60,580.40 L1264.80,587.60 L1257.60,594.80 L1264.80,602.00 L1257.60,609.20 L1250.40,602.00 L1243.20,609.20 L1236.00,602.00 L1243.20,594.80 L1236.00,587.60 Z" fill="#37aca3" stroke="#000" stroke-width="2.2"/>
<text transform="translate(-1.87 27.78) scale(0.8853 1)" font-family="'Liberation Serif', serif" font-size="38.67">(</text>
<text transform="translate(9.94 27.46) scale(1.2308 1)" font-family="'Liberation Serif', serif" font-size="33.75">a</text>
<text transform="translate(28.92 27.78) scale(0.8455 1)" font-family="'Liberation Serif', serif" font-size="38.67">)</text>
<text transform="translate(53.50 27.50) scale(1.1111 1)" font-family="'Liberation Serif', serif" font-size="36.00">Planar</text>
<text transform="translate(167.19 27.50) scale(1.0377 1)" font-family="'Liberation Serif', serif" font-size="36.00">Surface</text>
<text transform="translate(292.63 27.50) scale(1.0343 1)" font-family="'Liberation Serif', serif" font-style="italic" font-size="36.00">d</text>
<text transform="translate(322.46 30.39) scale(1.4446 1)" font-family="'Liberation Serif', serif" font-size="35.20">=</text>
<text transform="translate(362.25 27.50) scale(1.0417 1)" font-family="'Liberation Serif', serif" font-size="36.00">2</text>
<text transform="translate(-1.84 363.80) scale(0.8679 1)" font-family="'Liberation Serif', serif" font-size="38.56">(</text>
<text transform="translate(11.00 363.55) scale(1.1135 1)" font-family="'Liberation Serif', serif" font-size="35.14">b</text>
<text transform="translate(30.68 363.80) scale(0.8779 1)" font-family="'Liberation Serif', serif" font-size="38.56">)</text>
<text transform="translate(57.69 363.50) scale(1.1982 1)" font-family="'Liberation Serif', serif" font-style="italic" font-size="36.00">X</text>
<text transform="translate(89.28 363.50) scale(1.1717 1)" font-family="'Liberation Serif', serif" font-style="italic" font-size="36.00">Z</text>
<text transform="translate(115.99 363.50) scale(1.1465 1)" font-family="'Liberation Serif', serif" font-style="italic" font-size="36.00">Z</text>
<text transform="translate(143.85 363.50) scale(1.1609 1)" font-family="'Liberation Serif', serif" font-style="italic" font-size="36.00">X</text>
<text transform="translate(184.38 363.50) scale(1.0343 1)" font-family="'Liberation Serif', serif" font-style="italic" font-size="36.00">d</text>
<text transform="translate(213.57 366.22) scale(1.4720 1)" font-family="'Liberation Serif', serif" font-size="34.40">=</text>
<text transform="translate(253.11 363.50) scale(1.0347 1)" font-family="'Liberation Serif', serif" font-size="36.00">2</text>
<text transform="translate(454.75 26.13) scale(0.8703 1)" font-family="'Liberation Serif', serif" font-size="38.89">(</text>
<text transform="translate(466.19 25.86) scale(1.1211 1)" font-family="'Liberation Serif', serif" font-size="33.75">c</text>
<text transform="translate(482.85 26.13) scale(0.9000 1)" font-family="'Liberation Serif', serif" font-size="38.89">)</text>
<text transform="translate(942.28 714.25) scale(0.8332 1)" font-family="'Liberation Sans', sans-serif" class="b" font-size="36.30">Noise</text>
<text transform="translate(1031.51 714.25) scale(0.8581 1)" font-family="'Liberation Sans', sans-serif" class="b" font-size="36.30">Bias</text>
<text transform="translate(1102.00 714.53) scale(1.1925 1)" font-family="'Liberation Serif', serif" font-style="italic" font-size="35.59">η</text>
<text transform="translate(1121.94 720.05) scale(1.1278 1)" font-family="'Liberation Serif', serif" font-style="italic" font-size="27.92">X</text>
<text transform="translate(867.76 299.54) scale(1.1773 1)" font-family="'Liberation Serif', serif" font-style="italic" font-size="28.38">η</text>
<text transform="translate(883.94 303.90) scale(1.1422 1)" font-family="'Liberation Serif', serif" font-style="italic" font-size="21.69">X</text>
<text transform="translate(1302.63 565.20) scale(0.8936 1)" font-family="'Liberation Sans', sans-serif" class="b" font-size="29.00">Planar</text>
<text transform="translate(1386.53 565.20) scale(0.8760 1)" font-family="'Liberation Sans', sans-serif" class="b" font-size="29.00">Surface</text>
<text transform="translate(1483.01 565.01) scale(1.0171 1)" font-family="'Liberation Serif', serif" font-style="italic" font-size="29.29">d</text>
<text transform="translate(1505.28 566.90) scale(1.4647 1)" font-family="'Liberation Serif', serif" font-size="27.60">=</text>
<text transform="translate(1535.58 564.70) scale(1.0602 1)" font-family="'Liberation Serif', serif" font-size="28.77">2</text>
<text transform="translate(1302.35 605.40) scale(0.9752 1)" font-family="'Liberation Sans', sans-serif" class="b" font-size="29.00">XZZX</text>
<text transform="translate(1384.14 605.31) scale(0.9688 1)" font-family="'Liberation Serif', serif" font-style="italic" font-size="29.43">d</text>
<text transform="translate(1406.09 606.84) scale(1.5232 1)" font-family="'Liberation Serif', serif" font-size="26.40">=</text>
<text transform="translate(1434.98 605.00) scale(1.1471 1)" font-family="'Liberation Serif', serif" font-size="28.77">2</text>
<text transform="translate(640.96 126.00) scale(0.9288 1)" font-family="'Liberation Serif', serif" font-size="35.15" class="s">10</text>
<text transform="translate(640.96 204.49) scale(0.9211 1)" font-family="'Liberation Serif', serif" font-size="35.44" class="s">10</text>
<text transform="translate(691.16 113.35) scale(1.0363 1)" font-family="'Liberation Serif', serif" font-size="24.85" class="s">5</text>
<text transform="translate(691.74 192.19) scale(0.9440 1)" font-family="'Liberation Serif', serif" font-size="25.37" class="s">6</text>
<text transform="translate(673.41 114.57) scale(1.4410 1)" font-family="'Liberation Serif', serif" font-size="22.00">−</text>
<text transform="translate(673.41 193.37) scale(1.4410 1)" font-family="'Liberation Serif', serif" font-size="22.00">−</text>
<text transform="translate(428.03 405.71) rotate(-90) scale(1.1657 1)" font-family="'DejaVu Sans', serif" font-size="36.58">ℱ</text>
<text transform="translate(432.96 377.37) rotate(-90) scale(0.9385 1)" font-family="'Liberation Serif', serif" font-style="italic" font-size="29.63">Q</text>
<text transform="translate(436.21 353.50) rotate(-90) scale(0.8968 1)" font-family="'Liberation Serif', serif" font-size="58.94" stroke="#fff" stroke-width="1.0">/</text>
<text transform="translate(427.46 336.74) rotate(-90) scale(1.2250 1)" font-family="'Liberation Serif', serif" font-style="italic" font-size="33.65">σ</text>
<text transform="translate(413.90 314.12) rotate(-90) scale(0.9630 1)" font-family="'Liberation Serif', serif" font-size="29.08">2</text>
<text transform="translate(611.25 140.85) rotate(-90) scale(1.1180 1)" font-family="'DejaVu Math TeX Gyre', 'DejaVu Sans', serif" font-size="28.48" stroke="#000" stroke-width="0.6">𝒟</text>
<text transform="translate(601.10 111.56) rotate(-90) scale(0.9398 1)" font-family="'Liberation Serif', serif" font-size="25.54">2</text>
<text transform="translate(622.70 112.09) rotate(-90) scale(1.0943 1)" font-family="'Liberation Serif', serif" font-style="italic" font-size="26.15">B</text>
<text transform="translate(615.14 172.92) rotate(-90) scale(1.2453 1)" font-family="'Liberation Serif', serif" font-size="34.00">−</text>
<text transform="translate(613.67 227.22) rotate(-90) scale(1.1432 1)" font-family="'DejaVu Sans', serif" font-size="33.29">ℱ</text>
<text transform="translate(617.76 201.86) rotate(-90) scale(0.9495 1)" font-family="'Liberation Serif', serif" font-style="italic" font-size="27.32">Q</text>
</svg>
</body></html>
